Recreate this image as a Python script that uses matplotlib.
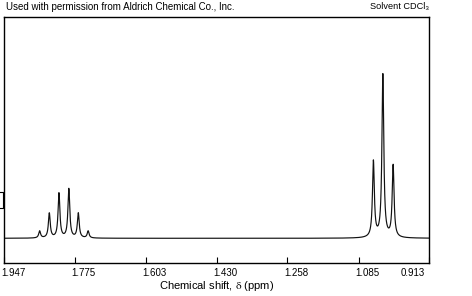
import numpy as np
import matplotlib
matplotlib.use("Agg")
import matplotlib.pyplot as plt
from matplotlib.transforms import ScaledTranslation
from matplotlib.lines import Line2D

plt.rcParams['font.family'] = ['Liberation Sans', 'DejaVu Sans']
plt.rcParams['mathtext.fontset'] = 'stix'

# Peak list (ppm, relative intensity)
peak_ppm = [1.861, 1.8375, 1.814, 1.790, 1.767, 1.743, 1.049, 1.026, 1.001]
peak_height = [7, 24.7, 44.7, 49, 24.7, 7, 76, 163, 72]
peak_hwhm = 0.0027  # ppm, Lorentzian half-width

tick_values = [1.947, 1.775, 1.603, 1.430, 1.258, 1.085, 0.913]
tick_labels = ["1.947", "1.775", "1.603", "1.430", "1.258", "1.085", "0.913"]
x_left, x_right = 1.947, 0.913

ppm = np.linspace(x_left, x_right, 6000)
intensity = np.zeros_like(ppm)
for p, h in zip(peak_ppm, peak_height):
    intensity += h * peak_hwhm**2 / ((ppm - p)**2 + peak_hwhm**2)

W, H = 472, 296
fig = plt.figure(figsize=(W/100, H/100), dpi=100)
ax = fig.add_axes([4.3/W, 1 - 263.3/H, 425/W, (263.3-16.8)/H])
ax.plot(ppm, intensity, color='#111111', lw=0.85)
ax.set_xlim(x_left, x_right)
ax.set_ylim(-25, 221.5)
ax.set_yticks([])
ax.set_xticks(tick_values)
ax.set_xticklabels(tick_labels, fontsize=7)
ax.tick_params(axis='x', direction='in', length=4, width=0.8, pad=3.5, colors='black')
for s in ax.spines.values():
    s.set_linewidth(1.0)
labels = ax.get_xticklabels()
for i, lab in enumerate(labels):
    if i == len(labels) - 1:
        lab.set_ha('right')
        lab.set_transform(lab.get_transform() + ScaledTranslation(-4.5/100, 0, fig.dpi_scale_trans))
    else:
        lab.set_ha('left')
        lab.set_transform(lab.get_transform() + ScaledTranslation(-3.2/100, 0, fig.dpi_scale_trans))

fig.text(216.8/W, 1 - 286/H, r"Chemical shift, $\mathrm{\delta}$ (ppm)", ha='center', va='center', fontsize=8)
fig.text(6/W, 1 - 6.5/H, "Used with permission from Aldrich Chemical Co., Inc.", ha='left', va='center', fontsize=7)
fig.text(429/W, 1 - 6.5/H, "Solvent CDCl\u2083", ha='right', va='center', fontsize=6.6)

# small integral bracket at left margin
bx = [0, 2.7, 2.7, 0]
by = [191.7, 191.7, 208.3, 208.3]
fig.add_artist(Line2D([x/W for x in bx], [1 - y/H for y in by], color='black', lw=0.8))

fig.savefig("out.png", dpi=100)
